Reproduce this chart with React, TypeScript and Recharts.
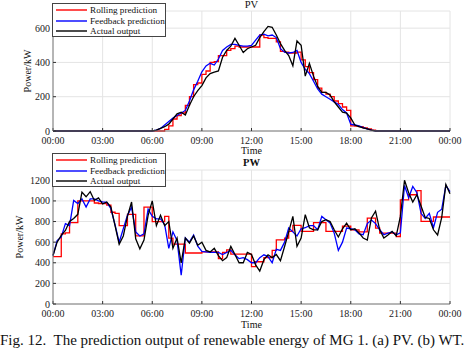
import React from "react";
import { LineChart, Line, XAxis, YAxis, CartesianGrid, Legend } from "recharts";

const serif = "'Liberation Serif', 'Times New Roman', serif";

// time axis: 00:00 .. 24:00, samples every 15 minutes
const hourTicks = [0, 3, 6, 9, 12, 15, 18, 21, 24];
const pvTicks = [0, 200, 400, 600];
const pwTicks = [0, 200, 400, 600, 800, 1000, 1200];

// PV, 06:15 .. 19:30 (zero outside)
const pvNightBefore = 25;
const pvNightAfter = 18;
const pvRollingDay = [
  0, 0, 10, 30, 70, 90, 105, 150, 200, 270, 280, 330, 350, 400, 405, 440,
  440, 470, 480, 495, 490, 490, 490, 490, 490, 560, 545, 540, 540, 520, 465, 460,
  455, 455, 460, 415, 375, 340, 300, 250, 225, 215, 200, 175, 160, 140, 120, 30,
  28, 25, 18, 12, 5, 0,
];
const pvFeedbackDay = [
  5, 15, 35, 55, 75, 90, 105, 120, 175, 240, 290, 345, 380, 395, 385, 420,
  470, 490, 505, 505, 500, 495, 495, 500, 530, 560, 565, 555, 560, 545, 480, 460,
  455, 458, 470, 400, 360, 335, 290, 245, 215, 200, 185, 170, 155, 125, 105, 40,
  35, 30, 20, 12, 5, 0,
];
const pvActualDay = [
  5, 15, 25, 40, 70, 100, 110, 93, 150, 200, 235, 265, 310, 335, 344, 350,
  430, 470, 495, 540, 500, 458, 480, 490, 500, 545, 580, 610, 605, 560, 510, 470,
  440, 380, 525, 500, 320, 395, 320, 260, 225, 225, 210, 170, 140, 110, 105, 76,
  35, 25, 18, 12, 5, 0,
];

// PW, 00:00 .. 24:00
const pwRolling = [
  460, 460, 680, 690, 790, 790, 1000, 1000, 1000, 1000, 980, 975, 975, 960, 890, 880,
  760, 760, 870, 870, 660, 660, 940, 940, 800, 800, 800, 850, 640, 580, 580, 580,
  495, 495, 495, 495, 505, 505, 505, 505, 440, 500, 525, 484, 484, 484, 484, 484,
  363, 410, 410, 450, 450, 520, 623, 623, 640, 705, 762, 762, 705, 705, 705, 790,
  790, 790, 705, 705, 705, 705, 755, 755, 720, 720, 700, 700, 834, 834, 737, 688,
  688, 688, 688, 655, 1010, 1010, 1060, 1060, 1100, 801, 801, 801, 844, 844, 844, 844,
  844,
];
const pwFeedback = [
  470, 615, 650, 780, 760, 1005, 975, 1020, 940, 1020, 1020, 1000, 990, 985, 924, 770,
  600, 730, 860, 940, 700, 660, 680, 920, 850, 826, 826, 770, 540, 700, 615, 280,
  640, 600, 670, 560, 510, 505, 500, 500, 500, 480, 500, 520, 477, 440, 450, 430,
  400, 400, 450, 477, 460, 400, 530, 520, 600, 737, 700, 660, 730, 740, 760, 760,
  720, 850, 818, 785, 688, 520, 600, 737, 730, 720, 680, 672, 780, 815, 780, 720,
  672, 688, 700, 672, 690, 1150, 1030, 1140, 1080, 880, 830, 880, 740, 890, 920, 1150,
  1090,
];
const pwActual = [
  470, 600, 665, 713, 800, 830, 870, 1085, 1040, 1090, 1005, 1030, 970, 990, 940, 760,
  580, 660, 850, 990, 632, 535, 620, 860, 1000, 760, 860, 760, 800, 540, 640, 400,
  640, 590, 660, 570, 600, 520, 505, 540, 470, 420, 450, 558, 480, 400, 400, 500,
  480, 380, 320, 430, 477, 450, 480, 420, 558, 700, 850, 560, 640, 866, 740, 720,
  720, 800, 818, 800, 720, 650, 730, 785, 720, 730, 690, 640, 620, 834, 900, 720,
  640, 670, 704, 660, 850, 1200, 1080, 990, 1060, 950, 840, 830, 720, 670, 840, 1160,
  1070,
];

const pad = (n: number) => Array(n).fill(0);
const pvRolling = [...pad(pvNightBefore), ...pvRollingDay, ...pad(pvNightAfter)];
const pvFeedback = [...pad(pvNightBefore), ...pvFeedbackDay, ...pad(pvNightAfter)];
const pvActual = [...pad(pvNightBefore), ...pvActualDay, ...pad(pvNightAfter)];

const toRows = (r: number[], f: number[], a: number[]) =>
  r.map((v, i) => ({ t: i * 0.25, rolling: v, feedback: f[i], actual: a[i] }));

const pvData = toRows(pvRolling, pvFeedback, pvActual);
const pwData = toRows(pwRolling, pwFeedback, pwActual);

const legendItems = [
  { name: "Rolling prediction", color: "#ff0000" },
  { name: "Feedback prediction", color: "#0000ff" },
  { name: "Actual output", color: "#000000" },
];

const fmtHour = (h: number) => `${String(h % 24).padStart(2, "0")}:00`;

const renderLegend = () => (
  <div
    style={{
      width: 114,
      height: 34,
      border: "1px solid #444",
      background: "#fff",
      boxSizing: "border-box",
      paddingTop: 1,
      fontFamily: serif,
      fontSize: 9.2,
      color: "#111",
    }}
  >
    {legendItems.map((item) => (
      <div key={item.name} style={{ display: "flex", alignItems: "center", height: 10.6, whiteSpace: "nowrap" }}>
        <svg width={37} height={4} style={{ flex: "none" }}>
          <line x1={3} x2={34} y1={2} y2={2} stroke={item.color} strokeWidth={1.4} />
        </svg>
        <span style={{ lineHeight: "10px" }}>{item.name}</span>
      </div>
    ))}
  </div>
);

const tickStyle = { fontFamily: serif, fontSize: 10, fill: "#222" };
const boxColor = "#7a7a7a";

function Panel({ data, yMax, yTicks, height, legendTop }: { data: any[]; yMax: number; yTicks: number[]; height: number; legendTop: number }) {
  return (
    <LineChart width={474} height={height} data={data} margin={{ top: 11, right: 24, bottom: 0, left: 0 }} style={{ overflow: "visible" }}>
      <CartesianGrid stroke="#e4e4e4" strokeWidth={1} />
      <XAxis
        dataKey="t"
        type="number"
        domain={[0, 24]}
        ticks={hourTicks}
        tickFormatter={fmtHour}
        height={20}
        tick={tickStyle}
        tickSize={-3}
        tickMargin={9}
        stroke={boxColor}
        tickLine={{ stroke: "#333" }}
        interval={0}
      />
      <XAxis
        xAxisId="top"
        orientation="top"
        type="number"
        dataKey="t"
        domain={[0, 24]}
        ticks={hourTicks}
        height={0}
        tick={false}
        tickSize={-3}
        stroke={boxColor}
        tickLine={{ stroke: "#333" }}
      />
      <YAxis
        type="number"
        domain={[0, yMax]}
        ticks={yTicks}
        width={53}
        tick={tickStyle}
        tickSize={-3}
        tickMargin={6}
        stroke={boxColor}
        tickLine={{ stroke: "#333" }}
        interval={0}
      />
      <YAxis
        yAxisId="right"
        orientation="right"
        type="number"
        domain={[0, yMax]}
        ticks={yTicks}
        width={0}
        tick={false}
        tickSize={-3}
        stroke={boxColor}
        tickLine={{ stroke: "#333" }}
      />
      <Line type="stepAfter" dataKey="rolling" stroke="#ff0000" strokeWidth={1.3} dot={false} isAnimationActive={false} />
      <Line type="linear" dataKey="feedback" stroke="#0000ff" strokeWidth={1.3} dot={false} isAnimationActive={false} />
      <Line type="linear" dataKey="actual" stroke="#000000" strokeWidth={1.3} dot={false} isAnimationActive={false} />
      <Legend
        layout="vertical"
        align="center"
        verticalAlign="middle"
        content={renderLegend}
        wrapperStyle={{ left: 52, top: legendTop, width: 114, height: 34 }}
      />
    </LineChart>
  );
}

const textBase: React.CSSProperties = {
  position: "absolute",
  fontFamily: serif,
  color: "#111",
  whiteSpace: "nowrap",
  lineHeight: 1,
};

export default function App() {
  return (
    <div style={{ position: "absolute", left: 0, top: 0, width: 474, height: 354, background: "#fff", overflow: "hidden" }}>
      <div style={{ position: "absolute", left: 0, top: 0 }}>
        <Panel data={pvData} yMax={700} yTicks={pvTicks} height={151} legendTop={3} />
      </div>
      <div style={{ position: "absolute", left: 0, top: 159 }}>
        <Panel data={pwData} yMax={1300} yTicks={pwTicks} height={165} legendTop={-6} />
      </div>

      <div style={{ ...textBase, left: 251.5, top: 0, fontSize: 10.5, transform: "translateX(-50%)" }}>PV</div>
      <div style={{ ...textBase, left: 251.5, top: 158, fontSize: 10.5, fontWeight: "bold", transform: "translateX(-50%)" }}>PW</div>

      <div style={{ ...textBase, left: 251.5, top: 146, fontSize: 10, transform: "translateX(-50%)" }}>Time</div>
      <div style={{ ...textBase, left: 251.5, top: 320, fontSize: 10, transform: "translateX(-50%)" }}>Time</div>

      <div style={{ ...textBase, left: 28, top: 71, fontSize: 10, transform: "translate(-50%, -50%) rotate(-90deg)" }}>Power/kW</div>
      <div style={{ ...textBase, left: 20, top: 237, fontSize: 10, transform: "translate(-50%, -50%) rotate(-90deg)" }}>Power/kW</div>

      <div style={{ ...textBase, left: 0, top: 333, fontSize: 15 }}>
        Fig. 12.&nbsp; The prediction output of renewable energy of MG 1. (a) PV. (b) WT.
      </div>
    </div>
  );
}
